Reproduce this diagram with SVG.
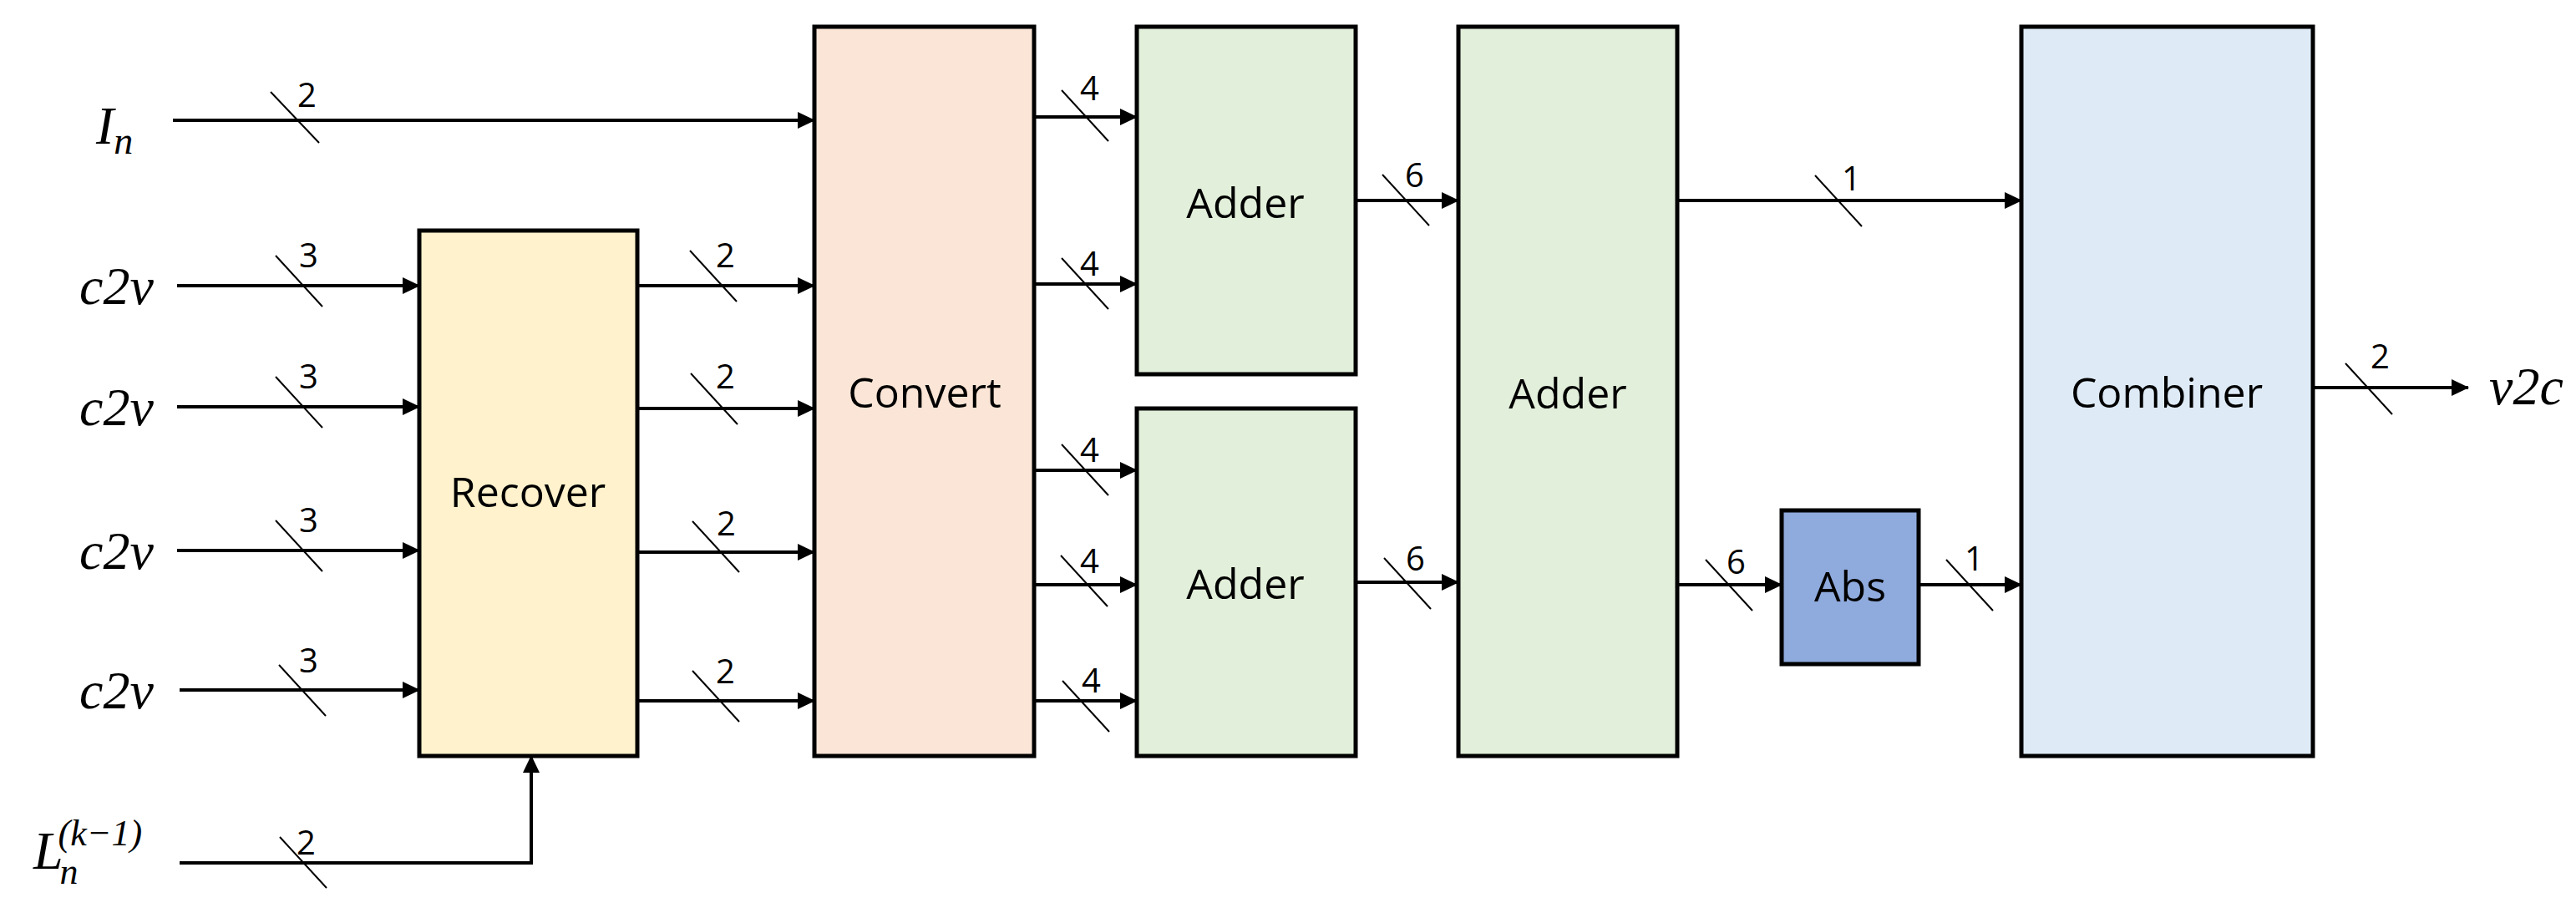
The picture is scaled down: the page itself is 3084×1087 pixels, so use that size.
<svg xmlns="http://www.w3.org/2000/svg" width="3084" height="1087" viewBox="0 0 3084 1087">
<style>
.box{stroke:#000;stroke-width:5}
.t{font-family:"Open Sans","Liberation Sans",sans-serif;font-size:50px;text-anchor:middle;fill:#000}
.n{font-family:"Open Sans","Liberation Sans",sans-serif;font-size:40px;fill:#000}
.m{font-family:"Liberation Serif",serif;font-style:italic;font-size:64px;fill:#000}
.c line,.c path{stroke:#000;stroke-width:4;fill:none}
.c .s{stroke-width:2}
</style>
<defs>
<marker id="a" markerUnits="userSpaceOnUse" markerWidth="22" markerHeight="22" refX="20" refY="11" orient="auto"><path d="M0,1 L21,11 L0,21 Z" fill="#000"/></marker>
</defs>
<g id="recover"><rect class="box" x="502" y="276" width="261" height="629" fill="#fff2cc"/><text class="t" x="632" y="607">Recover</text></g>
<g id="convert"><rect class="box" x="975" y="32" width="263" height="873" fill="#fbe5d6"/><text class="t" x="1107" y="488">Convert</text></g>
<g id="adder1"><rect class="box" x="1361" y="32" width="262" height="416" fill="#e2efda"/><text class="t" x="1491" y="261">Adder</text></g>
<g id="adder2"><rect class="box" x="1361" y="489" width="262" height="416" fill="#e2efda"/><text class="t" x="1491" y="717">Adder</text></g>
<g id="adder3"><rect class="box" x="1746" y="32" width="262" height="873" fill="#e2efda"/><text class="t" x="1877" y="489">Adder</text></g>
<g id="abs"><rect class="box" x="2133" y="611" width="164" height="184" fill="#8faadc"/><text class="t" x="2215" y="720">Abs</text></g>
<g id="combiner"><rect class="box" x="2420" y="32" width="349" height="873" fill="#deebf7"/><text class="t" x="2594" y="488">Combiner</text></g>
<g id="labels">
<text class="m" x="115" y="172">I<tspan font-size="46" dy="12">n</tspan></text>
<text class="m" x="95" y="364">c2v</text>
<text class="m" x="95" y="509">c2v</text>
<text class="m" x="95" y="681">c2v</text>
<text class="m" x="95" y="848">c2v</text>
<text class="m" x="40" y="1040">L<tspan font-size="44" dx="-4" dy="18">n</tspan><tspan font-size="44" dx="-24" dy="-46">(k−1)</tspan></text>
<text class="m" x="2980" y="484">v2c</text>
</g>
<g id="connectors" class="c">
<path d="M207,144 H975" marker-end="url(#a)"/>
<path d="M212,342 H502" marker-end="url(#a)"/>
<path d="M212,487 H502" marker-end="url(#a)"/>
<path d="M212,659 H502" marker-end="url(#a)"/>
<path d="M215,826 H502" marker-end="url(#a)"/>
<path d="M763,342 H975" marker-end="url(#a)"/>
<path d="M763,489 H975" marker-end="url(#a)"/>
<path d="M763,661 H975" marker-end="url(#a)"/>
<path d="M763,839 H975" marker-end="url(#a)"/>
<path d="M215,1033 H636 V905" marker-end="url(#a)"/>
<path d="M1238,140 H1361" marker-end="url(#a)"/>
<path d="M1238,340 H1361" marker-end="url(#a)"/>
<path d="M1238,563 H1361" marker-end="url(#a)"/>
<path d="M1238,700 H1361" marker-end="url(#a)"/>
<path d="M1238,839 H1361" marker-end="url(#a)"/>
<path d="M1623,240 H1746" marker-end="url(#a)"/>
<path d="M1623,697 H1746" marker-end="url(#a)"/>
<path d="M2008,240 H2420" marker-end="url(#a)"/>
<path d="M2008,700 H2133" marker-end="url(#a)"/>
<path d="M2297,700 H2420" marker-end="url(#a)"/>
<path d="M2769,464 H2955" marker-end="url(#a)"/>
<g id="slashes">
<line class="s" x1="324" y1="110" x2="382" y2="171"/>
<line class="s" x1="330" y1="306" x2="386" y2="367"/>
<line class="s" x1="330" y1="451" x2="386" y2="512"/>
<line class="s" x1="330" y1="623" x2="386" y2="684"/>
<line class="s" x1="334" y1="796" x2="390" y2="857"/>
<line class="s" x1="335" y1="1002" x2="391" y2="1063"/>
<line class="s" x1="826" y1="300" x2="882" y2="361"/>
<line class="s" x1="827" y1="447" x2="883" y2="508"/>
<line class="s" x1="829" y1="624" x2="885" y2="685"/>
<line class="s" x1="829" y1="803" x2="885" y2="864"/>
<line class="s" x1="1271" y1="108" x2="1327" y2="169"/>
<line class="s" x1="1271" y1="309" x2="1327" y2="370"/>
<line class="s" x1="1271" y1="532" x2="1327" y2="593"/>
<line class="s" x1="1270" y1="665" x2="1326" y2="726"/>
<line class="s" x1="1272" y1="815" x2="1328" y2="876"/>
<line class="s" x1="1655" y1="209" x2="1711" y2="270"/>
<line class="s" x1="1657" y1="668" x2="1713" y2="729"/>
<line class="s" x1="2173" y1="210" x2="2229" y2="271"/>
<line class="s" x1="2042" y1="670" x2="2098" y2="731"/>
<line class="s" x1="2330" y1="670" x2="2386" y2="731"/>
<line class="s" x1="2808" y1="435" x2="2864" y2="496"/>
</g>
</g>
<g id="widths">
<text class="n" x="356" y="128">2</text>
<text class="n" x="358" y="320">3</text>
<text class="n" x="358" y="465">3</text>
<text class="n" x="358" y="637">3</text>
<text class="n" x="358" y="805">3</text>
<text class="n" x="355" y="1023">2</text>
<text class="n" x="857" y="320">2</text>
<text class="n" x="857" y="465">2</text>
<text class="n" x="858" y="641">2</text>
<text class="n" x="857" y="818">2</text>
<text class="n" x="1293" y="120">4</text>
<text class="n" x="1293" y="330">4</text>
<text class="n" x="1293" y="553">4</text>
<text class="n" x="1293" y="686">4</text>
<text class="n" x="1295" y="829">4</text>
<text class="n" x="1682" y="224">6</text>
<text class="n" x="1683" y="683">6</text>
<text class="n" x="2205" y="228">1</text>
<text class="n" x="2067" y="687">6</text>
<text class="n" x="2352" y="683">1</text>
<text class="n" x="2838" y="441">2</text>
</g>
</svg>
